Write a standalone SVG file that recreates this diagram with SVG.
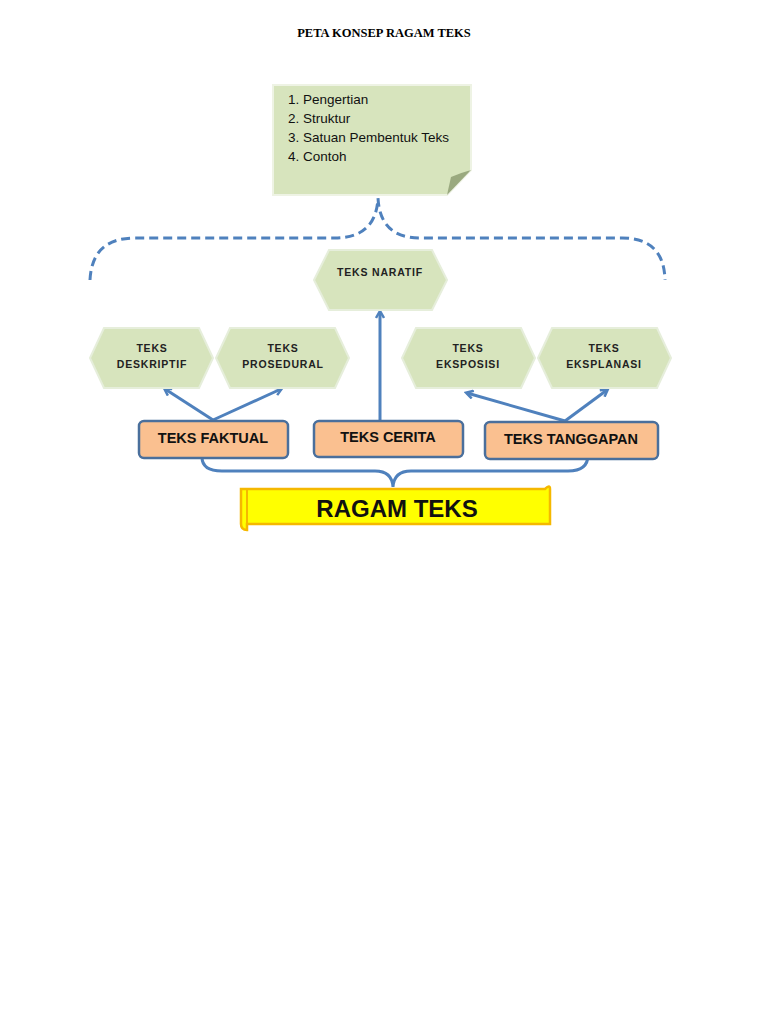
<svg xmlns="http://www.w3.org/2000/svg" width="768" height="1024" viewBox="0 0 768 1024">
<style>
.hex{fill:#d7e4bd;stroke:#e6eedb;stroke-width:2}
.box{fill:#fac090;stroke:#4a6f9c;stroke-width:2.5}
.ht{font-family:"Liberation Sans",Arial,sans-serif;font-weight:bold;font-size:10.5px;letter-spacing:0.8px;fill:#222;text-anchor:middle}
.bt{font-family:"Liberation Sans",Arial,sans-serif;font-weight:bold;font-size:14.5px;fill:#111;text-anchor:middle}
.con{fill:none;stroke:#4f81bd;stroke-width:3}
.nt{font-family:"Liberation Sans",Arial,sans-serif;font-size:13.5px;fill:#111}
</style>
<defs><marker id="ah" markerWidth="10" markerHeight="10" refX="7" refY="5" orient="auto" markerUnits="userSpaceOnUse"><path d="M1,1 L8,5 L1,9" fill="none" stroke="#4f81bd" stroke-width="2.5"/></marker></defs>
<rect width="768" height="1024" fill="#fff"/>
<text x="384" y="37" text-anchor="middle" font-family="Liberation Serif,serif" font-weight="bold" font-size="12.5">PETA KONSEP RAGAM TEKS</text>
<g id="note">
<path d="M273,85 H471 V170 L447,195 H273 Z" fill="#d7e4bd" stroke="#eef3e4" stroke-width="2"/>
<path d="M447,195 L451,177 Q460,173 471,170 Z" fill="#9aa97f"/>
<text class="nt" x="288" y="104">1. Pengertian</text>
<text class="nt" x="288" y="123">2. Struktur</text>
<text class="nt" x="288" y="142">3. Satuan Pembentuk Teks</text>
<text class="nt" x="288" y="161">4. Contoh</text>
</g>
<g id="connectors">
<path d="M90,280 Q92,238 135,238 H335 Q376,238 378,198 Q380,238 420,238 H622 Q664,238 665,280" fill="none" stroke="#4f81bd" stroke-width="3" stroke-dasharray="9,5"/>
<path class="con" d="M213,420 L165,389" marker-end="url(#ah)"/>
<path class="con" d="M213,420 L281,389" marker-end="url(#ah)"/>
<path class="con" d="M380,420 V312" marker-end="url(#ah)"/>
<path class="con" d="M565,421 L467,393" marker-end="url(#ah)"/>
<path class="con" d="M565,421 L607,390" marker-end="url(#ah)"/>
<path class="con" d="M202,457 Q202,471 222,471 H375 Q392,471 393,487 Q394,471 411,471 H568 Q588,471 588,455"/>
</g>
<g id="naratif"><polygon class="hex" points="314,280 329,250 432,250 447,280 432,310 329,310"/><text class="ht" x="380" y="276">TEKS NARATIF</text></g>
<g id="deskriptif"><polygon class="hex" points="90,358 104,328 199,328 213,358 199,388 104,388"/><text class="ht" x="152" y="352">TEKS</text><text class="ht" x="152" y="368">DESKRIPTIF</text></g>
<g id="prosedural"><polygon class="hex" points="216,358 230,328 335,328 349,358 335,388 230,388"/><text class="ht" x="283" y="352">TEKS</text><text class="ht" x="283" y="368">PROSEDURAL</text></g>
<g id="eksposisi"><polygon class="hex" points="402,358 416,328 521,328 535,358 521,388 416,388"/><text class="ht" x="468" y="352">TEKS</text><text class="ht" x="468" y="368">EKSPOSISI</text></g>
<g id="eksplanasi"><polygon class="hex" points="538,358 552,328 657,328 671,358 657,388 552,388"/><text class="ht" x="604" y="352">TEKS</text><text class="ht" x="604" y="368">EKSPLANASI</text></g>
<g id="faktual"><rect class="box" x="139" y="421" width="149" height="37" rx="5"/><text class="bt" x="213" y="443">TEKS FAKTUAL</text></g>
<g id="cerita"><rect class="box" x="314" y="421" width="149" height="36" rx="5"/><text class="bt" x="388" y="442">TEKS CERITA</text></g>
<g id="tanggapan"><rect class="box" x="485" y="422" width="173" height="37" rx="5"/><text class="bt" x="571" y="444">TEKS TANGGAPAN</text></g>
<g id="ragam">
<path d="M244,489 H545 Q550,484 550,489 V524 H247 V530 Q241,530 241,524 V489 Z" fill="#ffff00" stroke="#f5b800" stroke-width="2.5"/>
<line x1="247" y1="490" x2="247" y2="524" stroke="#f5b800" stroke-width="2"/>
<text x="397" y="517" text-anchor="middle" font-family="Liberation Sans,Arial,sans-serif" font-weight="bold" font-size="24" fill="#111">RAGAM TEKS</text>
</g>
</svg>
